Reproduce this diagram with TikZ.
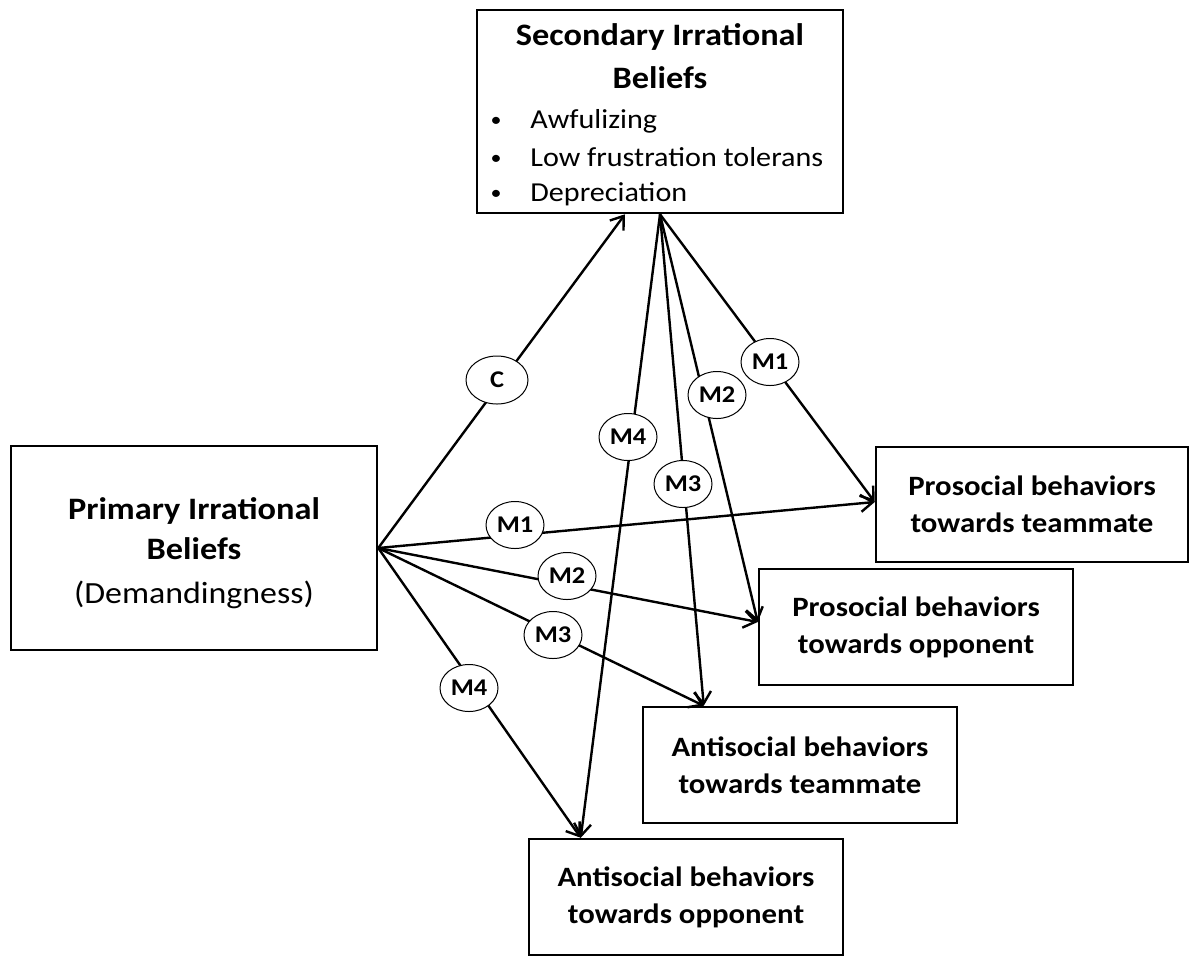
\documentclass[tikz,border=0pt]{standalone}
\usepackage{fontspec}
\setmainfont{Carlito}[FakeStretch=1.1]
\usetikzlibrary{arrows.meta,shapes.geometric,calc}
\begin{document}
\begin{tikzpicture}[x=0.5pt,y=-0.5pt,
 box/.style={draw, line width=1.25pt, inner sep=0pt, align=center, font=\bfseries\fontsize{14}{18.5}\selectfont},
 txt/.style={inner sep=0pt, anchor=base},
 big/.style={font=\bfseries\fontsize{15.6}{19}\selectfont},
 bul/.style={font=\fontsize{13.7}{18}\selectfont},
 lbl/.style={ellipse, draw, line width=0.5pt, fill=white, inner sep=0pt, minimum width=29pt, minimum height=23.5pt, font=\bfseries\fontsize{12}{14}\selectfont},
 conn/.style={line width=1.2pt, -{Straight Barb[length=6pt,width=8.5pt,line width=1.2pt]}}
]
\useasboundingbox (0,0) rectangle (1200,966);

% boxes
\node[box, minimum width=183pt, minimum height=101.5pt] (sec) at (660,111.5) {};
\node[txt, big] (sec1) at (660,45) {Secondary Irrational};
\node[txt, big] (sec2) at (660,88) {Beliefs};
\node[txt, bul, anchor=base west] (b1) at (530,128) {Awfulizing};
\node[txt, bul, anchor=base west] (b2) at (530,166) {Low frustration tolerans};
\node[txt, bul, anchor=base west] (b3) at (530,201) {Depreciation};
\node[txt, font=\fontsize{10}{12}\selectfont] (d1) at (496,126) {•};
\node[txt, font=\fontsize{10}{12}\selectfont] (d2) at (496,164) {•};
\node[txt, font=\fontsize{10}{12}\selectfont] (d3) at (496,199) {•};

\node[box, minimum width=183pt, minimum height=102pt] (pri) at (194,548) {};
\node[txt, big] (pri1) at (194,519) {Primary Irrational};
\node[txt, big] (pri2) at (194,559) {Beliefs};
\node[txt, font=\fontsize{15.4}{19}\selectfont] (pri3) at (194,603) {(Demandingness)};

\node[box, minimum width=156pt, minimum height=57.5pt] (pt) at (1032,504.5) {Prosocial behaviors\\towards teammate};
\node[box, minimum width=157pt, minimum height=58pt] (po) at (916,627) {Prosocial behaviors\\towards opponent};
\node[box, minimum width=157pt, minimum height=58pt] (at) at (800,765) {Antisocial behaviors\\towards teammate};
\node[box, minimum width=157pt, minimum height=58pt] (ao) at (686,897) {Antisocial behaviors\\towards opponent};

% anchor points
\coordinate (pfan) at (pri.east);
\coordinate (sfan) at (sec.south);
\coordinate (secC) at ($(sec.south)+(-35,0)$);
\coordinate (ptin) at ($(pt.west)+(0,-2.5)$);
\coordinate (poin) at ($(po.west)+(0,-5)$);
\coordinate (atin) at ($(at.north west)+(62,0)$);
\coordinate (aoin) at ($(ao.north west)+(53,0)$);

% connectors
\draw[conn] (pfan) -- (secC);
\draw[conn] (pfan) -- (ptin);
\draw[conn] (pfan) -- (poin);
\draw[conn] (pfan) -- (atin);
\draw[conn] (pfan) -- (aoin);
\draw[conn] (sfan) -- (ptin);
\draw[conn] (sfan) -- (poin);
\draw[conn] (sfan) -- (atin);
\draw[conn] (sfan) -- (aoin);

% path labels
\node[lbl, minimum width=31pt, minimum height=24pt] (lc) at (497,380) {C};
\node[lbl] (lm1a) at (515,525) {M1};
\node[lbl] (lm2a) at (567,576) {M2};
\node[lbl] (lm3a) at (553,635) {M3};
\node[lbl] (lm4a) at (469,688) {M4};
\node[lbl] (lm1b) at (770,362) {M1};
\node[lbl] (lm2b) at (717,395) {M2};
\node[lbl] (lm3b) at (683,484) {M3};
\node[lbl] (lm4b) at (628,437) {M4};
\end{tikzpicture}
\end{document}
